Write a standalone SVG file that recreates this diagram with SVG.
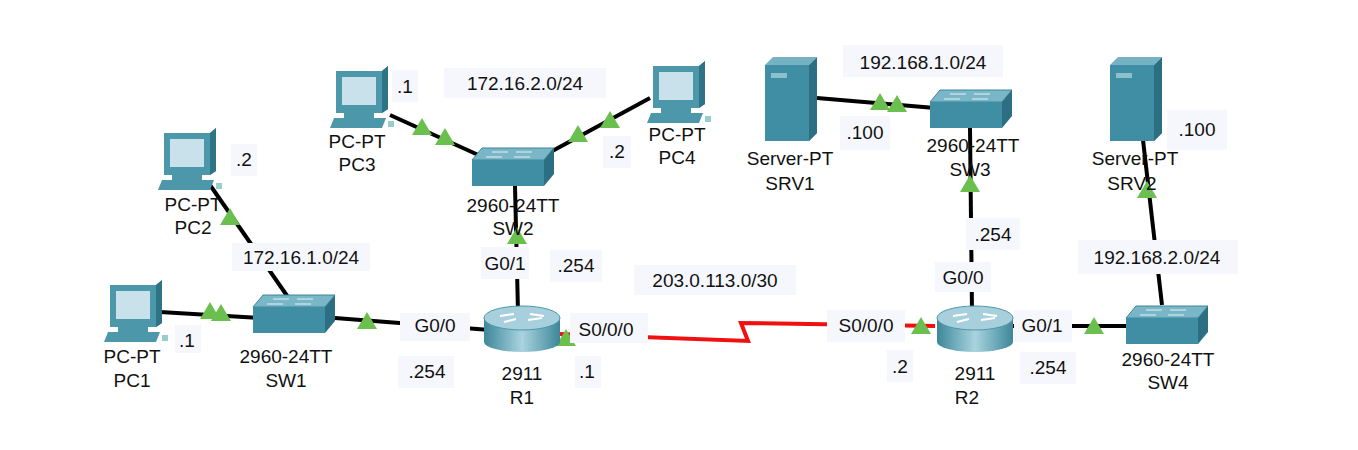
<svg xmlns="http://www.w3.org/2000/svg" width="1358" height="450" viewBox="0 0 1358 450">
<defs>
<style>
text{font-family:"Liberation Sans",Arial,sans-serif;font-size:19px;fill:#111;text-anchor:middle}
.lk{stroke:#000;stroke-width:4;fill:none}
.bg{fill:#f6f7fc}
.tri{fill:#6bbf4e}
.fr{fill:#4d97ab}
.sc{fill:#c9e1ea}
</style>
<linearGradient id="rg" x1="0" y1="0" x2="1" y2="0"><stop offset="0" stop-color="#3d8799"/><stop offset="0.5" stop-color="#a9d3df"/><stop offset="1" stop-color="#3d8799"/></linearGradient>
<g id="pc"><path class="fr" d="M6 0 L52 0 L58 -5 L58 38 L52 42 L6 42 Z"/><path d="M52 0 L58 -5 L58 38 L52 42Z" fill="#2f7387"/><rect class="sc" x="12" y="6" width="34" height="28"/><rect class="fr" x="14" y="42" width="30" height="5"/><path class="fr" d="M4 47 L56 47 L52 57 L0 57 Z"/><rect x="58" y="50" width="6" height="6" fill="#9cc" /></g>
<g id="sw"><path d="M10 0 L82 0 L72 12 L0 12 Z" fill="#78b6c8" stroke="#3d8799"/><rect x="0" y="12" width="72" height="26" fill="#3f8ea4"/><path d="M72 12 L82 0 L82 26 L72 38Z" fill="#2c6f82"/><path d="M20 4 h16 M44 4 h16 M14 9 h16 M42 9 h16" stroke="#e6f2f6" stroke-width="1.2"/></g>
<g id="rt"><rect x="-38" y="-8" width="76" height="24" fill="url(#rg)"/><ellipse cx="0" cy="16" rx="38" ry="10" fill="url(#rg)"/><ellipse cx="0" cy="-8" rx="38" ry="12" fill="#a7d0dc" stroke="#4d97ab"/><path d="M-22 -10 l14 -2 M8 -12 l14 2 M-18 -4 l12 -3 M6 -6 l14 -2" stroke="#fff" stroke-width="2"/></g>
<g id="srv"><path d="M0 8 L44 8 L52 0 L52 76 L44 84 L0 84Z" fill="#3f8ea4"/><path d="M44 8 L52 0 L52 76 L44 84Z" fill="#2c6f82"/><path d="M0 8 L8 0 L52 0 L44 8Z" fill="#74b2c4"/><rect x="6" y="16" width="16" height="5" fill="#8cc0cf"/></g>
<path id="t" d="M-10 8 L0 -9 L10 8Z"/>
</defs>
<rect width="1358" height="450" fill="#fff"/>
<g id="connectors">
<path class="lk" d="M160 312 L262 318"/>
<path class="lk" d="M210 185 L290 300"/>
<path class="lk" d="M335 318 L490 330"/>
<path class="lk" d="M515 186 L518 312"/>
<path class="lk" d="M390 115 L485 158"/>
<path class="lk" d="M650 98 L545 155"/>
<path class="lk" d="M817 98 L935 108"/>
<path class="lk" d="M970 128 L972 312"/>
<path class="lk" d="M1143 140 L1162 305"/>
<path class="lk" d="M1012 326 L1130 326"/>
<path d="M560 334 L748 341 L741 323 L935 326" stroke="#f01010" stroke-width="4" fill="none"/>
<g class="tri">
<use href="#t" x="210" y="311"/><use href="#t" x="221" y="313"/>
<use href="#t" x="230" y="217"/><use href="#t" x="367" y="321"/>
<use href="#t" x="422" y="127"/><use href="#t" x="445" y="137"/>
<use href="#t" x="578" y="134"/><use href="#t" x="610" y="120"/>
<use href="#t" x="880" y="102"/><use href="#t" x="897" y="104"/>
<use href="#t" x="970" y="184"/><use href="#t" x="1147" y="190"/>
<use href="#t" x="1094" y="326"/><use href="#t" x="921" y="326"/>
<use href="#t" x="566" y="338"/><use href="#t" x="517" y="236"/>
</g>
</g>
<g id="label-bg" class="bg">
<rect x="232" y="243" width="138" height="28"/><rect x="444" y="68" width="162" height="30"/>
<rect x="634" y="265" width="162" height="30"/><rect x="843" y="45" width="160" height="32"/>
<rect x="1078" y="240" width="160" height="34"/><rect x="175" y="325" width="26" height="28"/>
<rect x="231" y="144" width="26" height="32"/><rect x="392" y="70" width="26" height="32"/>
<rect x="603" y="136" width="28" height="32"/><rect x="400" y="313" width="70" height="28"/>
<rect x="398" y="356" width="56" height="32"/><rect x="481" y="247" width="48" height="32"/>
<rect x="550" y="250" width="52" height="32"/><rect x="570" y="313" width="78" height="30"/>
<rect x="575" y="356" width="26" height="32"/><rect x="840" y="116" width="50" height="34"/>
<rect x="966" y="218" width="54" height="32"/><rect x="935" y="262" width="56" height="30"/>
<rect x="827" y="310" width="78" height="32"/><rect x="887" y="350" width="26" height="32"/>
<rect x="1014" y="310" width="58" height="32"/><rect x="1020" y="352" width="56" height="32"/>
<rect x="1167" y="110" width="60" height="40"/>
</g>
<g id="PC1"><use href="#pc" x="104" y="285"/><text x="132" y="363">PC-PT</text><text x="132" y="387">PC1</text><text x="187" y="347">.1</text></g>
<g id="PC2"><use href="#pc" x="158" y="133"/><text x="193" y="211">PC-PT</text><text x="193" y="234">PC2</text><text x="244" y="166">.2</text></g>
<g id="PC3"><use href="#pc" x="330" y="71"/><text x="357" y="148">PC-PT</text><text x="357" y="171">PC3</text><text x="405" y="93">.1</text></g>
<g id="PC4"><use href="#pc" x="647" y="66"/><text x="677" y="141">PC-PT</text><text x="677" y="164">PC4</text><text x="617" y="158">.2</text></g>
<g id="SW1"><use href="#sw" x="253" y="295"/><text x="286" y="363">2960-24TT</text><text x="286" y="387">SW1</text></g>
<g id="SW2"><use href="#sw" x="472" y="148"/><text x="513" y="212">2960-24TT</text><text x="513" y="235">SW2</text></g>
<g id="SW3"><use href="#sw" x="930" y="90"/><text x="973" y="152">2960-24TT</text><text x="970" y="176">SW3</text></g>
<g id="SW4"><use href="#sw" x="1126" y="306"/><text x="1168" y="366">2960-24TT</text><text x="1168" y="389">SW4</text></g>
<g id="R1"><use href="#rt" x="522" y="326"/><text x="522" y="380">2911</text><text x="522" y="404">R1</text></g>
<g id="R2"><use href="#rt" x="975" y="326"/><text x="975" y="380">2911</text><text x="967" y="404">R2</text></g>
<g id="SRV1"><use href="#srv" x="765" y="57"/><text x="790" y="165">Server-PT</text><text x="790" y="190">SRV1</text></g>
<g id="SRV2"><use href="#srv" x="1110" y="57"/><text x="1135" y="165">Server-PT</text><text x="1132" y="190">SRV2</text></g>
<g id="labels">
<text x="301" y="264">172.16.1.0/24</text><text x="525" y="90">172.16.2.0/24</text>
<text x="715" y="287">203.0.113.0/30</text><text x="923" y="69">192.168.1.0/24</text>
<text x="1157" y="264">192.168.2.0/24</text>
<text x="435" y="332">G0/0</text><text x="427" y="378">.254</text>
<text x="505" y="270">G0/1</text><text x="576" y="272">.254</text>
<text x="606" y="336">S0/0/0</text><text x="587" y="378">.1</text>
<text x="865" y="139">.100</text><text x="993" y="241">.254</text>
<text x="963" y="284">G0/0</text><text x="866" y="332">S0/0/0</text>
<text x="900" y="373">.2</text><text x="1042" y="332">G0/1</text>
<text x="1048" y="374">.254</text><text x="1197" y="136">.100</text>
</g>
</svg>
